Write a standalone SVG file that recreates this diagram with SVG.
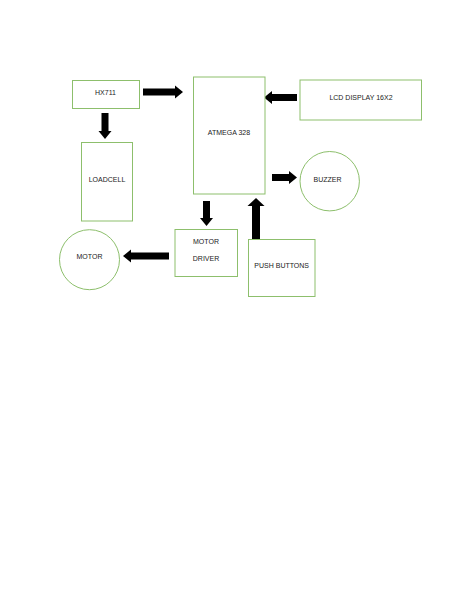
<svg xmlns="http://www.w3.org/2000/svg" width="474" height="613" viewBox="0 0 474 613">
<style>
.box{fill:#fff;stroke:#8dbf6c;stroke-width:1}
.lbl{font-family:"Liberation Sans",Arial,sans-serif;font-size:7px;fill:#222;text-anchor:middle}
.arr{fill:#000}
</style>
<rect width="474" height="613" fill="#fff"/>
<g id="connectors">
<path class="arr" d="M143,88.5 H175 V85.5 L183,92 L175,98.5 V95.5 H143 Z"/>
<path class="arr" d="M101.5,113 V131 H98.5 L105,139 L111.5,131 H108.5 V113 Z"/>
<path class="arr" d="M297,94 H272 V91 L264,97.5 L272,104 V101 H297 Z"/>
<path class="arr" d="M272,174 H289 V171 L297,177.5 L289,184 V181 H272 Z"/>
<path class="arr" d="M203,201 V218 H200 L206.5,226 L213,218 H210 V201 Z"/>
<path class="arr" d="M252,239 V206 H247.5 L256,198 L264.5,206 H260 V239 Z"/>
<path class="arr" d="M169,252.5 H131 V249.5 L123,256 L131,262.5 V259.5 H169 Z"/>
</g>
<g id="hx711">
<rect class="box" x="72.5" y="80.5" width="67" height="28"/>
<text class="lbl" x="105.5" y="94.5">HX711</text>
</g>
<g id="atmega">
<rect class="box" x="193.5" y="77" width="71.5" height="117"/>
<text class="lbl" x="229" y="134.5">ATMEGA 328</text>
</g>
<g id="loadcell">
<rect class="box" x="81.5" y="142.5" width="51" height="78.5"/>
<text class="lbl" x="107" y="181.5">LOADCELL</text>
</g>
<g id="lcd">
<rect class="box" x="300" y="80" width="121.5" height="40"/>
<text class="lbl" x="361" y="100">LCD DISPLAY 16X2</text>
</g>
<g id="buzzer">
<circle class="box" cx="329.7" cy="181.2" r="29.7"/>
<text class="lbl" x="327.5" y="181.5">BUZZER</text>
</g>
<g id="motor">
<circle class="box" cx="89.5" cy="259.7" r="30"/>
<text class="lbl" x="89.5" y="258.8">MOTOR</text>
</g>
<g id="motordriver">
<rect class="box" x="175" y="229.5" width="62.5" height="47"/>
<text class="lbl" x="206" y="244">MOTOR</text>
<text class="lbl" x="206" y="261">DRIVER</text>
</g>
<g id="pushbuttons">
<rect class="box" x="248.5" y="239.5" width="66.5" height="57"/>
<text class="lbl" x="281.7" y="267.8">PUSH BUTTONS</text>
</g>
</svg>
